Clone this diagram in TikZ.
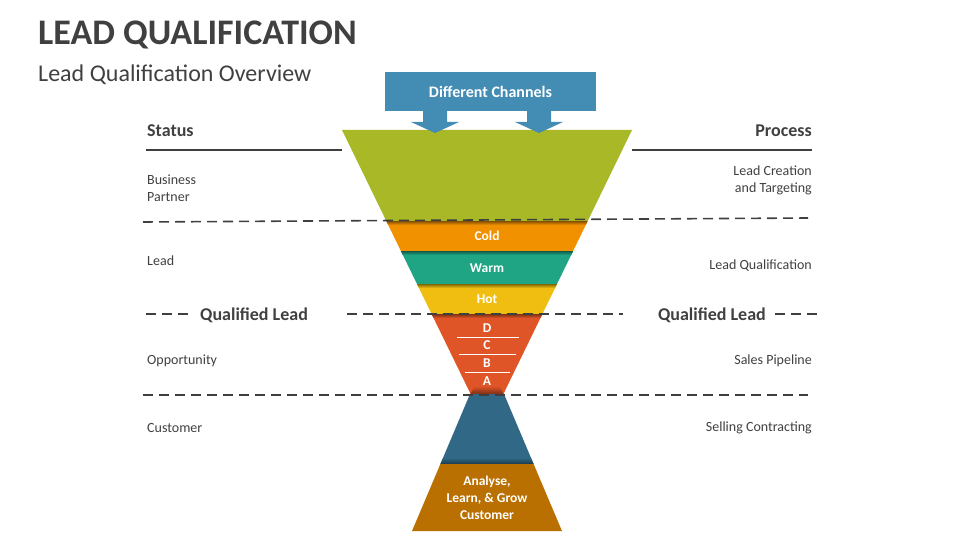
\documentclass[tikz,border=0pt]{standalone}
\usepackage{fontspec}
\setmainfont{Carlito}
\definecolor{txt}{HTML}{404040}
\definecolor{lin}{HTML}{3F3F3F}
\definecolor{greenc}{HTML}{A8B826}
\definecolor{coldc}{HTML}{F29100}
\definecolor{warmc}{HTML}{1FA584}
\definecolor{hotc}{HTML}{EFBE10}
\definecolor{redc}{HTML}{E05527}
\definecolor{bluec}{HTML}{306885}
\definecolor{brownc}{HTML}{B97000}
\definecolor{boxc}{HTML}{438CB4}
\begin{document}
\begin{tikzpicture}[x=1pt,y=-1pt,
  dline/.style={draw=lin, line width=1.6pt, dash pattern=on 10pt off 6pt},
  sline/.style={draw=lin, line width=1.8pt},
  lab/.style={text=txt, font=\fontsize{14}{17}\selectfont, inner sep=0pt},
  head/.style={text=txt, font=\bfseries\fontsize{18}{21}\selectfont, inner sep=0pt},
  wlab/.style={text=white, font=\bfseries\fontsize{13.5}{17}\selectfont, inner sep=0pt, align=center}]
\useasboundingbox (0,0) rectangle (960,540);
% title
\node[anchor=west, text=txt, font=\bfseries\fontsize{36}{40}\selectfont, inner sep=0pt] (title) at (38,35) {LEAD QUALIFICATION};
\node[anchor=west, text=txt, font=\fontsize{24}{28}\selectfont, inner sep=0pt] (sub) at (38,75) {Lead Qualification Overview};
% funnel
\fill[greenc] (342,130) -- (632,130) -- (587.7,221) -- (386.3,221) -- cycle;
\fill[coldc] (386.3,221) -- (587.7,221) -- (573.1,251) -- (400.9,251) -- cycle;
\shade[top color=coldc!55!black, bottom color=coldc] (386.3,221) -- (587.7,221) -- (585.8,225) -- (388.2,225) -- cycle;
\fill[warmc] (400.9,251) -- (573.1,251) -- (557,284) -- (417,284) -- cycle;
\shade[top color=warmc!55!black, bottom color=warmc] (400.9,251) -- (573.1,251) -- (571.2,255) -- (402.8,255) -- cycle;
\fill[hotc] (417,284) -- (557,284) -- (542.4,314) -- (431.6,314) -- cycle;
\shade[top color=hotc!55!black, bottom color=hotc] (417,284) -- (557,284) -- (555.1,288) -- (418.9,288) -- cycle;
\fill[redc] (431.6,314) -- (542.4,314) -- (503.4,394) -- (470.6,394) -- cycle;
\shade[top color=redc!55!black, bottom color=redc] (431.6,314) -- (542.4,314) -- (540.5,318) -- (433.5,318) -- cycle;
\shade[top color=redc, bottom color=redc!55!black] (474.5,386) -- (499.5,386) -- (503.4,394) -- (470.6,394) -- cycle;
\fill[bluec] (470,394) -- (504,394) -- (533.6,464) -- (440.4,464) -- cycle;
\shade[top color=bluec, bottom color=bluec!55!black] (443,458) -- (531,458) -- (533.6,464) -- (440.4,464) -- cycle;
\fill[brownc] (440.4,464) -- (533.6,464) -- (562,531) -- (412,531) -- cycle;
% red separators
\draw[white, line width=0.9pt] (457,337) -- (519,337);
\draw[white, line width=0.9pt] (459,354) -- (516,354);
\draw[white, line width=0.9pt] (465,372) -- (510,372);
% funnel labels
\node[wlab] (cold) at (487,236) {Cold};
\node[wlab] (warm) at (487,268) {Warm};
\node[wlab] (hot) at (487,299) {Hot};
\node[wlab] (d) at (487,328) {D};
\node[wlab] (c) at (487,345) {C};
\node[wlab] (b) at (487,363) {B};
\node[wlab] (a) at (487,381) {A};
\node[wlab] (grow) at (487,498) {Analyse,\\Learn, \& Grow\\Customer};
% channels box and arrows
\fill[boxc] (385,72) rectangle (596,111);
\node[text=white, font=\bfseries\fontsize{16}{19}\selectfont, inner sep=0pt] (chan) at (490.5,91.5) {Different Channels};
\fill[boxc] (423,111) -- (447,111) -- (447,122) -- (459,122) -- (435,133) -- (411,122) -- (423,122) -- cycle;
\fill[boxc] (527,111) -- (551,111) -- (551,122) -- (563,122) -- (539,133) -- (515,122) -- (527,122) -- cycle;
% headings
\node[head, anchor=west] (status) at (147,131) {Status};
\node[head, anchor=east] (process) at (812,131) {Process};
\draw[sline] (146,150) -- (342,150);
\draw[sline] (632,150) -- (812,150);
% dashed lines
\draw[dline] (143,222) -- (808,218);
\draw[dline] (146,314) -- (193,314);
\node[head, anchor=west] (ql1) at (200,315) {Qualified Lead};
\draw[dline] (347,314) -- (623,314);
\node[head, anchor=east] (ql2) at (766,315) {Qualified Lead};
\draw[dline] (775,314) -- (822,314);
\draw[dline] (143,395) -- (808,395);
% left labels
\node[lab, anchor=west, align=left] (bp) at (147,188) {Business\\Partner};
\node[lab, anchor=west] (lead) at (147,261) {Lead};
\node[lab, anchor=west] (opp) at (147,361) {Opportunity};
\node[lab, anchor=west] (cust) at (147,428) {Customer};
% right labels
\node[lab, anchor=east, align=right] (lct) at (812,180) {Lead Creation\\and Targeting};
\node[lab, anchor=east] (lq) at (812,266) {Lead Qualification};
\node[lab, anchor=east] (sp) at (812,361) {Sales Pipeline};
\node[lab, anchor=east] (sc) at (812,428) {Selling Contracting};
\end{tikzpicture}
\end{document}
